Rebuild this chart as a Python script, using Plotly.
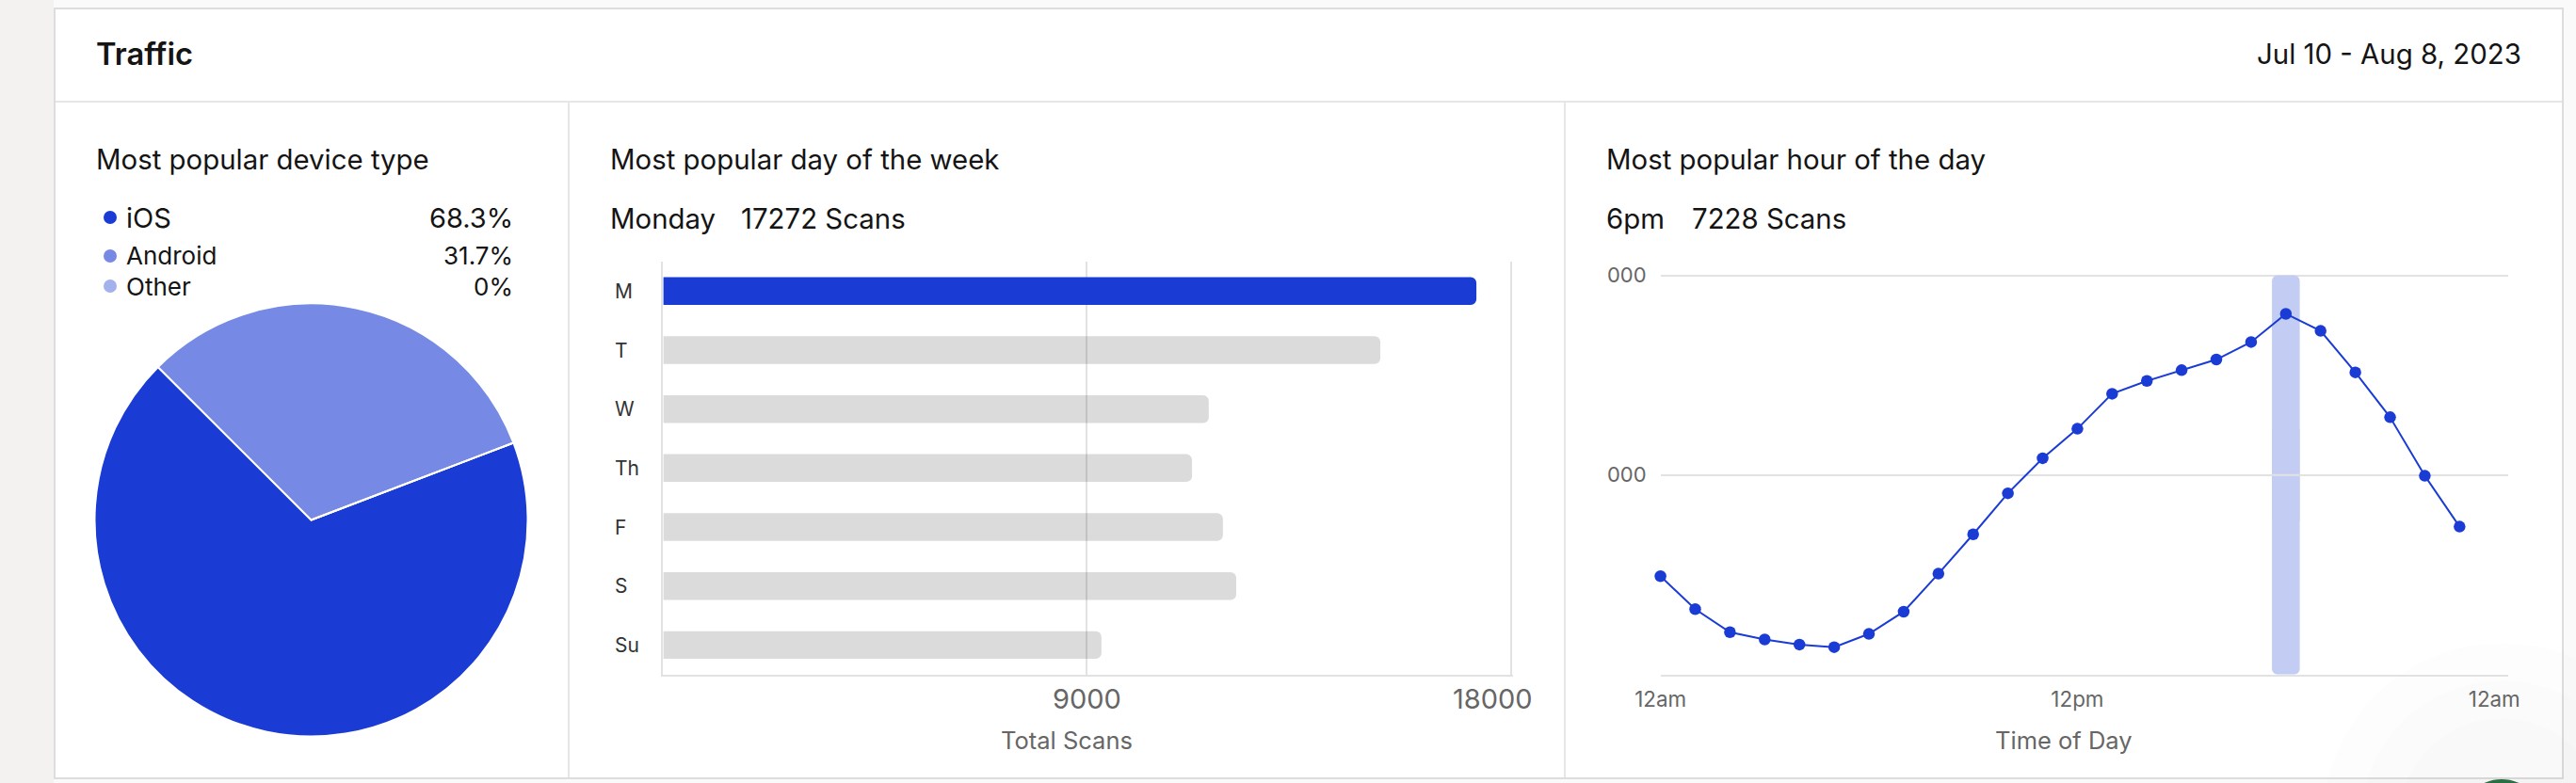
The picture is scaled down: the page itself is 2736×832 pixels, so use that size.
import plotly.graph_objects as go

# device split
devices = ["iOS", "Android", "Other"]
device_share = [68.3, 31.7, 0]
device_labels = ["68.3%", "31.7%", "0%"]

# scans per weekday
days = ["M", "T", "W", "Th", "F", "S", "Su"]
day_scans = [17272, 15232, 11588, 11232, 11888, 12172, 9308]
day_ticks = [9000, 18000]

# scans per hour, 12am first
hours = list(range(24))
hour_scans = [1970, 1310, 848, 702, 600, 548, 814, 1259, 2021, 2809, 3632, 4334,
              4925, 5627, 5884, 6099, 6313, 6664, 7229, 6887, 6056, 5156, 3983, 2964]
peak_hour = [18]
hour_ticks = [0, 12, 24]
hour_tick_labels = ["12am", "12pm", "12am"]
scan_ticks = [0, 4000, 8000]
scan_tick_labels = ["", "000", "000"]

W, H = 2736, 832
BLUE = "#1a3cd4"
MID_BLUE = "#768ae5"
PALE_BLUE = "#a3b1ec"
INK = "#141414"
GREY_TXT = "#666666"
LINE = "#e2e2e2"
FONT = "Inter"
BODY = 29.4


def px(x):
    return x / W


def py(y):
    return 1 - y / H


def label(x, y, text, size, color=INK, anchor="left", weight=None):
    fig.add_annotation(
        x=px(x), y=py(y), xref="paper", yref="paper", text=text, showarrow=False,
        xanchor=anchor, yanchor="middle", borderpad=0,
        font=dict(family=FONT, size=size, color=color, weight=weight),
    )


def box(x0, y0, x1, y1, fill, kind="rect"):
    fig.add_shape(type=kind, xref="paper", yref="paper", x0=px(x0), x1=px(x1), y0=py(y0), y1=py(y1),
                  fillcolor=fill, line_width=0, layer="below")


fig = go.Figure()

# page and card
box(0, 0, W, H, "#fafafa")
box(0, 0, 57, H, "#f3f2f0")
box(57, 8, 2723, 828, "#dedddb")
box(59, 10, 2721, 826, "#ffffff")
box(59, 107, 2721, 109, "#e6e6e6")
box(603, 109, 605, 826, "#e6e6e6")
box(1661, 109, 1663, 826, "#e6e6e6")

# chat button peeking in at the bottom, with its soft shadow
for r, shade in [(190, "rgba(0,0,0,0.006)"), (150, "rgba(0,0,0,0.006)"), (110, "rgba(0,0,0,0.008)")]:
    box(2657 - r, 873 - r, 2657 + r, 873 + r, shade, "circle")
box(2612, 828, 2702, 918, "#2a6e44", "circle")

# pie
fig.add_trace(go.Pie(
    labels=devices, values=device_share, sort=False, direction="clockwise", rotation=69.1,
    marker=dict(colors=[BLUE, MID_BLUE, PALE_BLUE], line=dict(color="white", width=2)),
    textinfo="none", showlegend=False,
    domain=dict(x=[px(100.5), px(560.5)], y=[py(782.5), py(322.5)]),
))

# weekday bars
bar_colors = [BLUE if v == max(day_scans) else "rgba(0,0,0,0.14)" for v in day_scans]
fig.add_trace(go.Bar(
    x=day_scans, y=days, orientation="h", marker=dict(color=bar_colors, cornerradius=6, line_width=0),
    xaxis="x", yaxis="y", showlegend=False,
))

# peak hour band, two overlapping bars so both ends round off
fig.add_trace(go.Bar(
    x=peak_hour * 2, y=[5000, -5000], base=[3000, 5000], width=0.8,
    marker=dict(color="#c3cdf4", cornerradius=6, line_width=0),
    xaxis="x2", yaxis="y2", showlegend=False,
))
fig.add_trace(go.Scatter(
    x=hours, y=hour_scans, mode="lines+markers", line=dict(color=BLUE, width=2),
    marker=dict(color=BLUE, size=12.5), cliponaxis=False,
    xaxis="x2", yaxis="y2", showlegend=False,
))

# ranges run a hair past the last tick, plotly drops gridlines sitting right on the edge
fig.update_layout(
    template="none",
    width=W, height=H, margin=dict(l=0, r=0, t=0, b=0, pad=0), autosize=False,
    paper_bgcolor="white", plot_bgcolor="rgba(0,0,0,0)", font=dict(family=FONT),
    bargap=0.53, barmode="overlay",
    xaxis=dict(domain=[px(704.4), px(1606.5)], range=[0, 18040], tickvals=[0] + day_ticks, automargin=False,
               showticklabels=False, showgrid=True, gridcolor=LINE, gridwidth=2, zeroline=False,
               showline=True, linecolor=LINE, linewidth=2, anchor="y", ticks=""),
    yaxis=dict(domain=[py(716.7), py(278)], categoryorder="array", categoryarray=days, automargin=False,
               autorange="reversed", showticklabels=False, showgrid=False, zeroline=False,
               showline=True, linecolor=LINE, linewidth=2, anchor="x", ticks=""),
    xaxis2=dict(domain=[px(1763.6), px(2664)], range=[0, 24.4], tickvals=hour_ticks, ticktext=hour_tick_labels,
                showgrid=False, zeroline=False, showline=True, linecolor=LINE, linewidth=2, anchor="y2",
                automargin=False, ticks="",
                tickfont=dict(family=FONT, size=22.4, color=GREY_TXT), ticklabelstandoff=5),
    yaxis2=dict(domain=[py(716.7), py(291)], range=[0, 8030], tickvals=scan_ticks, ticktext=scan_tick_labels,
                showgrid=True, gridcolor=LINE, gridwidth=2, zeroline=False, anchor="x2",
                automargin=False, ticks="", showline=False,
                tickfont=dict(family=FONT, size=22, color=GREY_TXT), ticklabelstandoff=14),
)

# grid runs over the band in the reference
fig.add_shape(type="line", xref="x2", yref="y2", x0=peak_hour[0] - 0.4, x1=peak_hour[0] + 0.4, y0=4000, y1=4000,
              line=dict(color=LINE, width=2), layer="above")

# header
label(100.5, 57, "Traffic", 32.7, weight=600)
label(2679, 57, "Jul 10 - Aug 8, 2023", BODY, anchor="right")

# device panel
label(100.5, 169, "Most popular device type", BODY)
legend_rows = [(231, 29), (272, 26), (304, 26)]
for name, val, col, (y, size) in zip(devices, device_labels, [BLUE, MID_BLUE, PALE_BLUE], legend_rows):
    box(110, y - 7, 124, y + 7, col, "circle")
    label(132.5, y, name, size)
    label(546, y, val, size, anchor="right")

# weekday panel
label(646.5, 169, "Most popular day of the week", BODY)
label(646.5, 232, "Monday", BODY)
label(786, 232, "17272 Scans", BODY)
for d in days:
    fig.add_annotation(x=px(651.5), y=d, xref="paper", yref="y", text=d, showarrow=False, xanchor="left",
                       borderpad=0, font=dict(family=FONT, size=21, color="#333333"))
fig.add_annotation(x=day_ticks[0], y=py(742), xref="x", yref="paper", text=str(day_ticks[0]), showarrow=False,
                   yanchor="middle", borderpad=0, font=dict(family=FONT, size=29, color=GREY_TXT))
fig.add_annotation(x=day_ticks[1], xshift=24, y=py(742), xref="x", yref="paper", text=str(day_ticks[1]),
                   showarrow=False, xanchor="right", yanchor="middle", borderpad=0,
                   font=dict(family=FONT, size=29, color=GREY_TXT))
label(1133, 786, "Total Scans", 25.5, GREY_TXT, "center")

# hour panel
label(1705.5, 169, "Most popular hour of the day", BODY)
label(1705.5, 232, "6pm", BODY)
label(1796, 232, "7228 Scans", BODY)
label(2192, 786, "Time of Day", 25.5, GREY_TXT, "center")

# the page's default body margin would push the card off position
fig.write_html("out.html", config=dict(displayModeBar=False), post_script="document.body.style.margin='0';")
